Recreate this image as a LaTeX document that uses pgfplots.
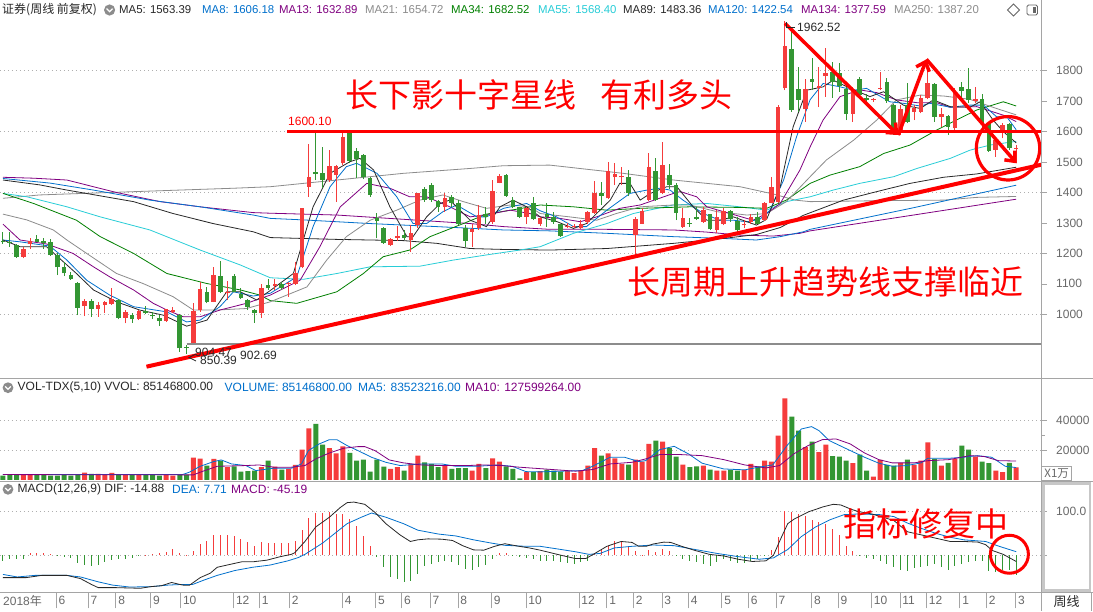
\documentclass[border=0pt]{standalone}
\usepackage{pgfplots}
\pgfplotsset{compat=1.18}
\usepackage{pgfplotstable}
\usepackage{fontspec}
\setmainfont{Liberation Sans}
\newfontfamily\cjk{Noto Sans CJK SC}
\usetikzlibrary{arrows.meta}

\definecolor{kred}{RGB}{245,60,60}
\definecolor{kgreen}{RGB}{51,150,51}
\definecolor{madark}{RGB}{40,40,40}
\definecolor{mablue}{RGB}{0,112,204}
\definecolor{mapurple}{RGB}{128,0,128}
\definecolor{magray}{RGB}{140,140,140}
\definecolor{magreen}{RGB}{0,128,0}
\definecolor{macyan}{RGB}{40,205,215}
\definecolor{axgray}{RGB}{165,165,165}
\definecolor{gridgray}{RGB}{175,175,175}
\definecolor{txtgray}{RGB}{105,105,105}

\pgfplotstableread{
i o h l c v
3 1189 1222 1184 1213 3400
4 1231 1249 1216 1242 3400
12 1027 1049 994 1043 5000
14 1019 1041 992 1030 4000
15 1030 1044 1003 1041 3600
16 1034 1085 1032 1050 4700
18 989 1014 970 1006 3600
20 983 1014 981 1011 3600
24 978 1018 976 1016 3600
25 1008 1023 1005 1014 2900
28 906 1038 904 1010 15100
29 1014 1107 1008 1082 14400
31 1041 1154 1039 1129 14200
33 1069 1109 1047 1074 8600
38 1003 1101 989 1088 8600
40 1094 1115 1080 1099 9000
42 1099 1107 1058 1104 7400
43 1101 1173 1096 1137 10100
44 1154 1350 1151 1348 20500
45 1419 1559 1386 1452 34900
48 1441 1539 1436 1487 21400
49 1457 1490 1370 1488 18000
50 1496 1594 1490 1583 22700
57 1227 1249 1225 1247 7400
58 1252 1290 1241 1257 8600
60 1244 1293 1205 1266 10800
61 1293 1399 1282 1397 16400
65 1353 1399 1337 1383 9700
69 1271 1296 1222 1279 6300
70 1282 1359 1277 1326 10800
72 1304 1441 1298 1406 14600
73 1432 1460 1430 1454 12400
77 1320 1353 1296 1348 5200
79 1296 1320 1290 1315 6000
83 1288 1301 1285 1291 6300
84 1288 1296 1283 1291 4500
85 1282 1309 1280 1296 6300
86 1304 1339 1296 1337 9700
87 1334 1438 1331 1400 21400
89 1381 1501 1379 1470 18000
90 1452 1496 1424 1461 14600
91 1450 1485 1424 1454 10800
93 1260 1320 1189 1312 13700
94 1298 1348 1296 1340 12400
95 1375 1531 1373 1485 24300
97 1397 1567 1395 1490 25900
100 1288 1348 1285 1315 10400
103 1304 1353 1301 1342 9700
105 1277 1342 1266 1320 6300
106 1296 1348 1293 1339 6300
109 1293 1309 1282 1298 6800
110 1304 1331 1298 1320 10800
112 1309 1370 1307 1364 13000
113 1366 1450 1364 1419 12400
114 1370 1688 1366 1680 29900
115 1742 1962.5 1736 1881 55100
118 1673 1772 1632 1739 22100
120 1742 1813 1680 1750 18700
121 1782 1873 1714 1791 23900
125 1658 1747 1632 1739 11300
128 1703 1712 1698 1706 2300
129 1740 1797 1736 1744 13500
132 1600 1687 1589 1673 11500
134 1665 1687 1638 1676 10100
135 1665 1720 1660 1709 13000
136 1709 1824 1706 1758 25400
138 1649 1676 1616 1658 9700
140 1611 1742 1605 1731 14200
143 1701 1747 1693 1706 15800
146 1539 1578 1518 1572 6300
147 1605 1627 1578 1621 5200
149 1543 1555 1496 1547 8515
}\up

\pgfplotstableread{
i o h l c v
0 1240 1271 1232 1237 2900
1 1238 1271 1222 1235 3600
2 1227 1230 1186 1189 3400
5 1247 1260 1236 1238 3400
6 1242 1249 1216 1233 3400
7 1238 1247 1192 1194 2900
8 1194 1200 1129 1154 2900
9 1156 1173 1125 1134 3600
10 1129 1140 1114 1116 2900
11 1104 1107 997 1022 3600
13 1043 1049 992 1019 4000
17 1047 1049 983 989 3600
19 997 1005 972 983 3400
21 1012 1027 1001 1003 3400
22 997 1008 986 993 3400
23 989 997 962 978 2900
26 997 1000 877 888 3600
27 893 900 871 889 3600
30 1072 1090 1036 1041 9700
32 1125 1176 1071 1074 13000
34 1125 1131 1072 1074 9200
35 1066 1088 1050 1052 5600
36 1047 1049 1014 1025 5900
37 1014 1019 972 1003 6300
39 1096 1115 1080 1085 13000
41 1099 1107 1080 1087 7000
46 1466 1600.1 1441 1460 37800
47 1463 1550 1414 1441 23900
51 1594 1598 1496 1504 18200
52 1536 1545 1446 1509 13000
53 1523 1528 1443 1450 13700
54 1447 1452 1386 1392 5600
55 1317 1334 1249 1307 13700
56 1282 1288 1231 1235 9000
59 1262 1276 1244 1249 6300
62 1413 1419 1370 1375 11900
63 1424 1430 1370 1375 10800
64 1372 1375 1337 1353 8600
66 1386 1392 1353 1366 7400
67 1364 1375 1293 1298 7900
68 1285 1293 1222 1242 7900
71 1328 1353 1298 1320 7900
74 1457 1460 1386 1389 9200
75 1377 1386 1348 1351 7400
76 1351 1353 1315 1320 1100
78 1364 1386 1309 1312 5200
80 1331 1364 1288 1320 7000
81 1320 1337 1298 1304 6300
82 1296 1298 1255 1257 5600
88 1400 1435 1359 1389 16400
92 1452 1474 1388 1397 10400
96 1471 1512 1373 1375 26600
98 1457 1495 1413 1424 21400
99 1424 1430 1309 1334 15800
101 1299 1315 1287 1296 8600
102 1320 1353 1309 1313 9200
104 1328 1331 1277 1279 7000
107 1340 1342 1304 1312 6800
108 1307 1320 1271 1277 6300
111 1318 1337 1296 1298 9200
116 1870 1928 1665 1671 42800
117 1739 1813 1665 1704 33300
119 1772 1841 1736 1763 25900
122 1797 1830 1712 1764 16000
123 1793 1826 1731 1750 15800
124 1739 1747 1638 1658 13000
126 1772 1778 1709 1720 17100
127 1712 1723 1698 1704 6300
130 1764 1775 1695 1701 10100
131 1687 1690 1589 1600 9700
133 1687 1758 1627 1632 13700
137 1756 1758 1632 1649 14200
139 1651 1654 1589 1616 11500
141 1745 1764 1704 1734 23200
142 1740 1808 1693 1704 20500
144 1706 1725 1616 1627 12400
145 1627 1632 1534 1537 11300
148 1625 1627 1539 1545 11500
}\dn

\pgfplotsset{
  panel/.style={scale only axis, width=1041.7pt, xmin=-0.441, xmax=152.75,
    anchor=north west, axis x line=none, axis y line*=right,
    axis line style={draw=axgray, line width=0.8pt},
    tick align=outside, major tick length=5pt, minor tick length=3pt,
    tick style={draw=axgray, line width=0.7pt},
    yticklabel style={font=\fontsize{12}{14}\selectfont, text=txtgray, xshift=6pt},
    /pgf/number format/assume math mode=true, /pgf/number format/1000 sep={},
    scaled y ticks=false, clip=true},
  wick/.style={draw=none, mark=none, forget plot, error bars/.cd, y dir=plus, y explicit,
    error mark=none, error bar style={draw=#1, line width=1pt}},
  body/.style={draw=none, mark=none, forget plot, error bars/.cd, y dir=plus, y explicit,
    error mark=none, error bar style={draw=#1, line width=4.6pt}},
  ma/.style={#1, line width=0.8pt},
}

\begin{document}
\begin{tikzpicture}[x=1pt,y=-1pt]
\fill[white] (0,0) rectangle (1093,611);
\path[use as bounding box] (0,0) rectangle (1093,611);

% ================= MAIN PRICE PANEL =================
\begin{axis}[panel, at={(0pt,0pt)}, height=378.3pt, ymin=789.8, ymax=2032.2,
  ytick={1000,1100,...,1800},
  extra y ticks={1000,1200,1400,1600,1800}, extra y tick labels={},
  extra y tick style={grid=major, major grid style={draw=gridgray, dash pattern=on 1pt off 3pt, line width=0.8pt}}]

% MA250
\addplot[ma=magray] coordinates {(0,1381) (5.4,1392) (14.3,1399) (26.0,1408) (33.9,1414) (39.3,1419) (49.1,1441) (58.9,1463) (68.7,1479) (73.6,1488) (80.4,1490) (91.2,1463) (98.6,1441) (108.4,1419) (113.3,1395) (116.5,1375) (118.7,1370) (128.5,1373) (138.3,1375) (143.2,1384) (149,1387)};
% MA134
\addplot[ma=mapurple] coordinates {(0,1450) (4.5,1447) (9.4,1441) (13.3,1419) (16.7,1400) (23.1,1370) (29.0,1353) (36.8,1334) (39.3,1332) (49.1,1326) (58.9,1312) (68.7,1298) (73.6,1288) (80.4,1279) (88.8,1279) (98.6,1277) (103.5,1270) (108.4,1260) (113.3,1257) (117.2,1266) (118.7,1274) (133.9,1326) (149,1378)};
% MA120
\addplot[ma=mablue] coordinates {(0,1446) (6.9,1431) (13.3,1408) (21.6,1375) (29.0,1353) (36.8,1326) (39.3,1315) (44.2,1310) (54.0,1298) (63.8,1288) (73.6,1277) (80.4,1274) (88.8,1266) (98.6,1255) (106.0,1249) (110.8,1244) (114.3,1255) (117.7,1271) (118.7,1279) (133.9,1350) (149,1424)};
% MA89
\addplot[ma=madark] coordinates {(0,1441) (5.4,1425) (9.4,1408) (19.2,1370) (25.0,1331) (30.9,1298) (36.8,1271) (39.3,1252) (49.1,1246) (58.9,1242) (63.8,1233) (68.7,1216) (73.6,1213) (80.4,1211) (88.8,1216) (98.6,1233) (105.9,1249) (110.8,1262) (114.3,1285) (117.7,1325) (123.6,1375) (128.5,1403) (133.4,1430) (138.3,1450) (143.2,1461) (149,1483)};
% MA55
\addplot[ma=macyan] coordinates {(0,1397) (3.5,1386) (9.4,1353) (14.3,1320) (21.6,1277) (29.0,1211) (34.9,1162) (39.3,1120) (44.2,1115) (49.1,1134) (54.0,1156) (61.3,1158) (66.2,1178) (71.1,1195) (76.0,1211) (79.0,1222) (83.9,1266) (88.8,1298) (92.7,1331) (98.6,1359) (103.5,1364) (108.4,1353) (112.3,1342) (115.2,1370) (118.7,1386) (122.1,1408) (126.0,1430) (131.0,1452) (134.4,1479) (139.3,1512) (142.2,1539) (145.2,1556) (149,1568)};
% MA34
\addplot[ma=magreen] coordinates {(0,1397) (4.5,1364) (10.8,1309) (14.3,1255) (19.2,1200) (24.1,1134) (30.0,1101) (34.9,1080) (37.8,1063) (39.3,1045) (43.2,1036) (49.1,1074) (53.0,1134) (55.9,1189) (59.8,1211) (62.8,1255) (67.7,1298) (71.1,1329) (75.5,1345) (79.0,1359) (83.9,1353) (88.8,1342) (93.7,1348) (101.0,1353) (108.4,1351) (112.3,1348) (115.2,1375) (118.7,1430) (121.6,1457) (126.0,1485) (129.5,1528) (133.4,1556) (137.3,1605) (140.2,1638) (143.2,1671) (147.1,1698) (149,1684)};
% MA21
\addplot[ma=magray] coordinates {(0,1329) (3.5,1310) (7.4,1277) (9.4,1244) (12.3,1200) (16.7,1134) (20.6,1101) (25.0,1058) (28.0,1014) (31.4,1014) (35.8,1019) (39.3,1041) (44.7,1090) (47.6,1178) (50.5,1255) (54.0,1309) (57.9,1342) (61.3,1375) (64.7,1392) (67.7,1370) (71.1,1348) (74.6,1359) (77.5,1353) (79.0,1331) (83.3,1320) (87.3,1309) (90.2,1331) (93.7,1353) (98.6,1359) (101.0,1359) (105.0,1337) (109.4,1326) (112.3,1331) (115.2,1370) (118.7,1452) (121.1,1507) (125.1,1572) (128.5,1638) (131.4,1704) (134.9,1720) (138.3,1717) (142.2,1706) (146.1,1676) (149,1655)};
% MA13
\addplot[ma=mapurple] coordinates {(0,1296) (2.5,1244) (6.4,1231) (10.3,1200) (13.3,1156) (15.7,1123) (19.2,1080) (22.1,1036) (24.1,1014) (26.5,992) (29.0,992) (31.9,1014) (35.8,1036) (39.3,1063) (43.7,1112) (46.6,1222) (49.6,1353) (53.5,1430) (56.9,1414) (59.8,1386) (62.3,1386) (65.7,1353) (68.7,1320) (71.6,1329) (74.6,1342) (77.5,1331) (79.0,1320) (81.9,1315) (84.9,1304) (87.3,1320) (90.7,1348) (93.7,1359) (98.6,1397) (99.6,1403) (102.0,1386) (103.5,1353) (106.9,1331) (110.3,1309) (112.3,1331) (114.3,1364) (117.2,1474) (118.7,1550) (120.6,1638) (123.1,1715) (126.0,1737) (128.5,1728) (131.4,1704) (134.4,1695) (137.3,1695) (139.3,1680) (143.2,1682) (147.1,1654) (149,1633)};
% MA8
\addplot[ma=mablue] coordinates {(0,1244) (2.5,1238) (6.9,1224) (9.4,1178) (12.3,1112) (15.7,1063) (19.2,1025) (24.1,1008) (27.0,975) (29.0,981) (31.9,1025) (33.9,1074) (36.8,1060) (39.3,1069) (43.2,1123) (45.6,1288) (48.1,1419) (50.5,1485) (52.0,1496) (55.0,1463) (57.9,1386) (60.3,1298) (62.3,1298) (64.7,1337) (66.7,1359) (69.7,1320) (71.1,1320) (73.6,1348) (77.0,1364) (79.0,1340) (81.4,1320) (83.9,1288) (85.8,1288) (88.8,1342) (92.2,1397) (94.7,1408) (96.6,1414) (98.1,1408) (100.0,1375) (103.0,1331) (105.4,1309) (107.4,1309) (109.4,1304) (111.3,1312) (112.8,1342) (114.8,1441) (116.7,1583) (118.7,1705) (120.6,1758) (123.1,1747) (125.1,1736) (127.0,1742) (130.4,1698) (132.4,1693) (134.9,1684) (136.3,1693) (139.3,1680) (142.2,1687) (144.2,1687) (146.1,1649) (147.6,1649) (149,1606)};
% MA5
\addplot[ma=madark] coordinates {(0,1244) (2.5,1222) (6.4,1222) (10.8,1134) (13.3,1080) (16.7,1041) (20.1,1014) (23.6,997) (27.0,961) (30.0,981) (32.9,1074) (34.9,1074) (37.3,1047) (39.3,1078) (42.7,1134) (45.6,1353) (48.1,1463) (51.0,1501) (52.5,1512) (54.5,1474) (56.9,1353) (59.4,1255) (60.3,1255) (62.3,1320) (64.3,1364) (65.7,1375) (68.7,1309) (71.1,1288) (73.1,1353) (75.0,1375) (77.0,1353) (79.0,1320) (81.4,1305) (83.9,1282) (85.8,1298) (89.3,1375) (90.7,1430) (92.2,1430) (93.7,1375) (95.2,1397) (97.6,1419) (99.1,1419) (101.5,1353) (103.5,1309) (105.4,1309) (107.4,1320) (109.4,1304) (110.8,1293) (112.3,1312) (114.3,1419) (116.2,1616) (118.2,1736) (120.6,1747) (122.1,1769) (124.6,1742) (127.5,1715) (129.5,1731) (132.4,1687) (134.9,1676) (136.8,1704) (139.3,1682) (142.2,1680) (143.7,1698) (145.6,1638) (147.1,1600) (149,1563)};

% candles
\addplot[wick=kred] table[x=i, y=l, y error plus expr=\thisrow{h}-\thisrow{l}] \up;
\addplot[body=kred] table[x=i, y=o, y error plus expr=\thisrow{c}-\thisrow{o}] \up;
\addplot[wick=kgreen] table[x=i, y=l, y error plus expr=\thisrow{h}-\thisrow{l}] \dn;
\addplot[body=kgreen] table[x=i, y=c, y error plus expr=\thisrow{o}-\thisrow{c}] \dn;

% annotations
\draw[draw=red, line width=3pt] (axis cs:41.8,1600.1) -- (axis cs:152.75,1600.1);
\draw[draw=magray, line width=2pt] (axis cs:27.0,902.69) -- (axis cs:152.75,902.69);
\draw[draw=red, line width=4pt] (axis cs:21.1,828) -- (axis cs:152.75,1491.6);
\draw[draw=red, line width=3.5pt, -{Straight Barb[length=8pt,width=14pt]}] (axis cs:115.0,1955.7) -- (axis cs:131.66,1588.8);
\draw[draw=red, line width=3.5pt, -{Straight Barb[length=8pt,width=14pt]}] (axis cs:131.66,1588.8) -- (axis cs:135.8,1837.4);
\draw[draw=red, line width=3.5pt, -{Straight Barb[length=8pt,width=14pt]}] (axis cs:135.8,1837.4) -- (axis cs:149.07,1495.9);
\draw[draw=red, line width=3.2pt] (axis cs:147.8,1545.2) circle[radius=31.7pt];
\end{axis}

% ================= VOLUME PANEL =================
\begin{axis}[panel, at={(0pt,-378.3pt)}, height=103.4pt, ymin=-1216, ymax=68650,
  ytick={20000,40000}, yticklabels={20000,40000}, minor ytick={30000},
  ymajorgrids, major grid style={draw=gridgray, dash pattern=on 1pt off 3pt, line width=0.8pt}]
\addplot[ybar, bar width=5pt, bar shift=0pt, fill=kred, draw=none] table[x=i, y=v] \up;
\addplot[ybar, bar width=5pt, bar shift=0pt, fill=kgreen, draw=none] table[x=i, y=v] \dn;
\addplot[ma=mablue] coordinates {(0,3600) (26.4,3600) (27.4,5200) (29.0,9200) (31.0,12400) (32.1,13500) (33.6,10800) (35.7,9700) (37.2,6300) (39.8,7900) (42.4,7900) (43.9,10800) (44.9,19800) (46.5,24300) (48.0,27200) (49.1,27200) (50.6,23200) (52.2,19800) (54.2,15300) (56.3,11900) (58.4,9700) (61.5,10800) (64.5,10800) (66.6,9200) (69.7,9200) (72.8,10100) (74.9,9200) (76.9,5600) (79.0,5400) (82.1,5900) (85.2,6300) (86.7,9200) (89.3,15300) (91.4,15300) (93.5,12400) (94.5,13000) (96.6,20500) (98.7,22700) (100.8,17600) (102.8,11300) (106.0,7400) (109.1,6800) (111.1,8600) (113.2,10100) (115.3,23200) (117.4,34400) (118.9,36000) (120.0,33300) (121.5,26600) (124.1,20900) (126.7,15300) (128.8,11300) (130.8,9200) (132.9,9700) (135.0,11500) (136.0,14600) (139.1,14600) (141.2,15300) (143.3,16400) (145.4,15300) (147.4,9200) (149,8352)};
\addplot[ma=mapurple] coordinates {(0,3600) (28.0,3400) (29.0,5200) (31.5,9200) (35.7,9700) (37.7,10100) (39.8,8600) (42.4,8600) (44.4,9700) (46.0,14200) (48.0,18200) (50.1,21400) (52.2,22500) (53.2,22500) (54.7,19800) (56.8,13500) (58.9,11500) (61.5,10100) (64.5,9700) (68.2,9700) (70.7,10100) (73.3,9700) (75.9,8600) (79.0,7600) (84.2,5900) (86.7,7000) (89.3,10800) (92.5,11900) (94.5,14200) (96.6,17100) (99.7,17100) (102.8,16400) (106.0,13700) (109.1,10100) (112.2,8100) (114.2,9700) (116.3,17600) (118.4,23200) (120.5,27200) (122.5,27700) (124.6,24300) (126.7,18200) (128.8,13700) (130.8,11500) (134.0,11500) (136.0,13000) (139.1,13700) (142.2,16400) (144.3,15800) (146.4,13000) (149,12760)};
\end{axis}

% ================= MACD PANEL =================
\begin{axis}[panel, at={(0pt,-481.7pt)}, height=110.6pt, ymin=-86.1, ymax=169.3,
  ytick={0,100}, yticklabels={{},100.0},
  ymajorgrids, major grid style={draw=gridgray, dash pattern=on 1pt off 3pt, line width=0.8pt}]
\addplot[ycomb, draw=kred, line width=1pt] coordinates {(4,3.7) (5,5.2) (6,5.2) (7,3) (21,1) (22,2.2) (23,3.7) (24,6.7) (25,14.2) (26,3.7) (27,0.8) (28,10.4) (29,25.4) (30,32.8) (31,46.3) (32,46.3) (33,46.3) (34,44) (35,36.6) (36,29.1) (37,20.1) (38,29.1) (39,27.6) (40,27.6) (41,27.6) (42,27.6) (43,31.3) (44,57.4) (45,85) (46,97.7) (47,97.7) (48,98.5) (49,94.7) (50,94.7) (51,83.6) (52,67.1) (53,44) (54,20.1) (73,5.2) (74,5.2) (87,5.2) (88,12.7) (89,20.1) (90,31.3) (91,31.3) (92,20.1) (93,9) (94,1) (95,12.7) (96,6.7) (97,14.9) (98,9) (113,12.7) (114,42.5) (115,102.2) (116,98.5) (117,94.7) (118,91) (119,79.8) (120,76.1) (121,72.4) (122,61.2) (123,46.3) (124,20.1) (125,9)};
\addplot[ycomb, draw=kgreen, line width=1pt] coordinates {(0,-13.4) (1,-9.7) (2,-9.7) (3,-8.2) (8,-1) (9,-4.5) (10,-6.7) (11,-19.4) (12,-23.1) (13,-26.1) (14,-22.4) (15,-17.2) (16,-11.2) (17,-9.7) (18,-9.7) (19,-7.5) (20,-1) (55,-4.5) (56,-28.3) (57,-50.7) (58,-54.5) (59,-61.9) (60,-60.4) (61,-43.3) (62,-26.1) (63,-20.9) (64,-17.2) (65,-13.4) (66,-17.2) (67,-23.1) (68,-32.1) (69,-33.6) (70,-28.3) (71,-23.1) (72,-9.7) (75,-1) (76,-4.5) (77,-6) (78,-9.7) (79,-13.4) (80,-13.4) (81,-13.4) (82,-15.7) (83,-18.7) (84,-20.9) (85,-17.2) (86,-13.4) (99,-1) (100,-9.7) (101,-13.4) (102,-15.7) (103,-20.9) (104,-26.1) (105,-17.2) (106,-9.7) (107,-13.4) (108,-18.7) (109,-18.7) (110,-13.4) (111,-9.7) (112,-2.2) (126,-1) (127,-6) (128,-8.2) (129,-13.4) (130,-20.9) (131,-28.3) (132,-33.6) (133,-38) (134,-30.6) (135,-28.3) (136,-24.6) (137,-20.9) (138,-28.3) (139,-33.6) (140,-26.1) (141,-20.9) (142,-15.7) (143,-13.4) (144,-13.4) (145,-35.8) (146,-39.5) (147,-33.6) (148,-33.6) (149,-45.19)};
% DEA
\addplot[ma=mablue] coordinates {(0,-44.8) (2.1,-50.7) (4.7,-47) (9.4,-47) (11.4,-50.7) (14,-61.9) (16.1,-69.4) (18.6,-73.9) (21.7,-73.1) (24.3,-69.4) (26.4,-67.9) (27.9,-67.9) (29.5,-58.2) (31.5,-47) (34.1,-35.8) (36.7,-28.3) (39.3,-23.1) (41.9,-13.4) (43.4,-6) (44.4,1.5) (47,27.6) (49.1,53.7) (50.6,72.4) (52.7,87.3) (54.2,97) (56.3,87.3) (58.9,72.4) (61,57.4) (64,48.5) (66.6,44) (69.2,35.1) (71.8,27.6) (73.8,22.4) (76.9,20.1) (79,20.1) (82.1,12.7) (84.2,7.5) (86.2,1.5) (87.8,3.7) (89.9,16.4) (92.5,20.1) (95.6,23.1) (98.7,21.6) (101.8,12.7) (105,3.7) (108.1,-3.7) (111.2,-9.7) (113.3,-6.7) (115.4,12.7) (117.4,42.5) (119.5,64.9) (121.6,81.3) (123.7,93.3) (125.7,94.7) (128.9,93.3) (131,88.8) (133,73.9) (135.1,61.2) (137.2,50) (139.3,41) (141.3,35.1) (144.5,31.3) (146.5,20.1) (149,7.71)};
% DIF
\addplot[ma=madark] coordinates {(0,-52.2) (3.4,-52.2) (5.7,-47) (9.4,-47) (11.4,-54.5) (13,-67.9) (14,-75.3) (16.6,-75.3) (20.2,-76.8) (21.7,-73.1) (23.3,-70.9) (24.8,-63.4) (26.4,-69.4) (27.4,-70) (29,-52.2) (30.5,-41.8) (31.5,-28.3) (33.6,-20.9) (35.1,-15.7) (36.7,-15.7) (38.8,-11.9) (40.8,-3.7) (42.4,1.5) (42.9,5.2) (44.4,31.3) (46,64.9) (48,87.3) (49.6,109.7) (50.6,120.9) (51.6,122.3) (53.2,117.1) (54.7,98.5) (56.3,72.4) (58.4,46.3) (59.9,31.3) (61,35.1) (62.5,37.3) (64.5,36.6) (66.1,33.6) (67.6,21.6) (69.2,11.9) (70.7,11.2) (72.3,20.1) (73.8,26.1) (75.9,20.1) (77.4,16.4) (79,11.2) (82.1,-0.7) (84.2,-8.2) (85.7,-8.2) (86.8,1.5) (88.8,20.1) (90.9,31.3) (92.5,29.1) (93.5,20.1) (94.6,20.1) (95.6,25.4) (97.2,29.8) (98.2,29.1) (99.8,20.1) (101.8,10.4) (103.9,1.5) (106,-2.2) (108.1,-9.7) (110.2,-14.9) (112.2,-13.4) (113.3,-0.7) (114.3,35.1) (115.4,72.4) (116.4,83.6) (118.5,100) (120.6,111.2) (122.1,117.1) (123.2,115.6) (124.7,105.9) (125.7,100.7) (127.8,94.7) (131,79.8) (133,53.7) (135.1,46.3) (137.2,38.8) (139.3,31.3) (141.3,31.3) (143.4,29.8) (144.5,23.9) (145.5,10.4) (147.1,1.5) (149,-14.88)};
\draw[draw=red, line width=3pt] (axis cs:148.0,1.8) circle[radius=19pt];
\end{axis}

% ================= BOTTOM DATE STRIP =================
\begin{axis}[scale only axis, width=1041.7pt, height=16pt, at={(0pt,-592.3pt)}, anchor=north west,
  xmin=-0.441, xmax=152.75, ymin=0, ymax=1, axis line style={draw=none}, ytick=\empty,
  xtick={7.8,12.5,16.6,21.7,26.1,33.9,37.7,42.1,49.9,54.8,58.6,62.8,66.9,71.8,76.9,84.7,88.8,92.7,96.9,100.8,105.7,109.6,113.7,118.9,122.8,127.7,131.9,135.8,140.7,144.6,148.9},
  xticklabels={6,7,8,9,10,12,1,2,4,5,6,7,8,9,10,12,1,2,3,4,5,6,7,8,9,10,11,12,1,2,3},
  xtick style={draw=none}, xmajorgrids, major grid style={draw=axgray, line width=0.8pt},
  xticklabel style={anchor=west, yshift=8pt, xshift=-1pt, font=\fontsize{12}{14}\selectfont, text=txtgray}]
\addplot[draw=none] coordinates {(0,0.5)};
\end{axis}

% ================= FRAME =================
\draw[axgray, line width=0.9pt] (0,378.3) -- (1093,378.3);
\draw[axgray, line width=0.9pt] (0,481.7) -- (1093,481.7);
\draw[axgray, line width=0.9pt] (0,592.3) -- (1093,592.3);
\draw[axgray, line width=0.9pt] (1041.7,0) -- (1041.7,611);
\draw[axgray, line width=0.9pt] (1091.7,592.3) -- (1091.7,611);
\draw[black!22, line width=2.4pt] (1043.5,483.6) rectangle (1090,590.6);
\draw[axgray, line width=0.8pt] (1041.7,466.7) rectangle (1071.7,480.7);
\node[inner sep=0pt, font=\cjk\fontsize{11.5}{12}\selectfont, text=txtgray] at (1056.7,473.8) {X1万};
\node[inner sep=0pt, font=\cjk\fontsize{13}{14}\selectfont, text=madark] at (1066.7,601.3) {周线};
\node[anchor=west, inner sep=0pt, font=\fontsize{12}{14}\selectfont, text=txtgray] at (3,601.3) {2018{\cjk 年}};

% ================= HEADERS =================
\node[anchor=west, inner sep=0pt, font=\cjk\fontsize{12}{14}\selectfont, text=madark] at (2,10) {证券(周线 前复权)};
\fill[black!45] (109.6,10) circle[radius=5.6pt];
\draw[white, line width=1.3pt] (106.6,8.6) -- (109.6,11.6) -- (112.6,8.6);
\begin{scope}[every node/.style={anchor=west, inner sep=0pt, font=\fontsize{11.4}{14}\selectfont}]
\node[text=madark] at (119,10) {MA5: 1563.39};
\node[text=mablue] at (202,10) {MA8: 1606.18};
\node[text=mapurple] at (279,10) {MA13: 1632.89};
\node[text=magray] at (365,10) {MA21: 1654.72};
\node[text=magreen] at (451,10) {MA34: 1682.52};
\node[text=macyan] at (538,10) {MA55: 1568.40};
\node[text=madark] at (623,10) {MA89: 1483.36};
\node[text=mablue] at (708,10) {MA120: 1422.54};
\node[text=mapurple] at (801,10) {MA134: 1377.59};
\node[text=magray] at (894,10) {MA250: 1387.20};
\end{scope}
\begin{scope}[every node/.style={anchor=west, inner sep=0pt, font=\fontsize{12}{14}\selectfont}]
\node[text=madark] at (17.5,387.7) {VOL-TDX(5,10) VVOL: 85146800.00};
\node[text=mablue] at (224.5,387.7) {VOLUME: 85146800.00};
\node[text=mablue] at (358,387.7) {MA5: 83523216.00};
\node[text=mapurple] at (465,387.7) {MA10: 127599264.00};
\node[text=madark] at (17.5,489.3) {MACD(12,26,9) DIF: -14.88};
\node[text=mablue] at (172,489.3) {DEA: 7.71};
\node[text=mapurple] at (231,489.3) {MACD: -45.19};
\node[text=red] at (288,121.7) {1600.10};
\node[text=madark] at (797,27) {1962.52};
\node[text=madark] at (195,352.6) {904.47};
\node[text=madark] at (200,360) {850.39};
\node[text=madark] at (240,355.7) {902.69};
\end{scope}
\draw[madark, line width=0.7pt] (786,22) -- (786,27) -- (795,27);
\draw[madark, line width=0.7pt] (196,354) -- (189,357.5) -- (196,361);
\fill[black!45] (8,387.7) circle[radius=5.4pt];
\draw[white, line width=1.3pt] (5.2,386.4) -- (8,389.2) -- (10.8,386.4);
\fill[black!45] (8,489.3) circle[radius=5.4pt];
\draw[white, line width=1.3pt] (5.2,488) -- (8,490.8) -- (10.8,488);
\draw[black!60, line width=0.8pt] (1013.5,4) -- (1019.5,10) -- (1013.5,16) -- (1007.5,10) -- cycle;
\draw[black!60, line width=0.8pt, rounded corners=1.5pt] (1027,5) rectangle (1037.5,15);
\fill[black!60] (1032.5,7) rectangle (1035.5,13);

% ================= ANNOTATION TEXT =================
\begin{scope}[every node/.style={anchor=west, inner sep=0pt, text=red, font=\cjk\fontsize{33}{33}\selectfont}]
\node at (345,95) {长下影十字星线};
\node at (600,95) {有利多头};
\node at (627,282) {长周期上升趋势线支撑临近};
\node at (843,524) {指标修复中};
\end{scope}
\end{tikzpicture}
\end{document}
